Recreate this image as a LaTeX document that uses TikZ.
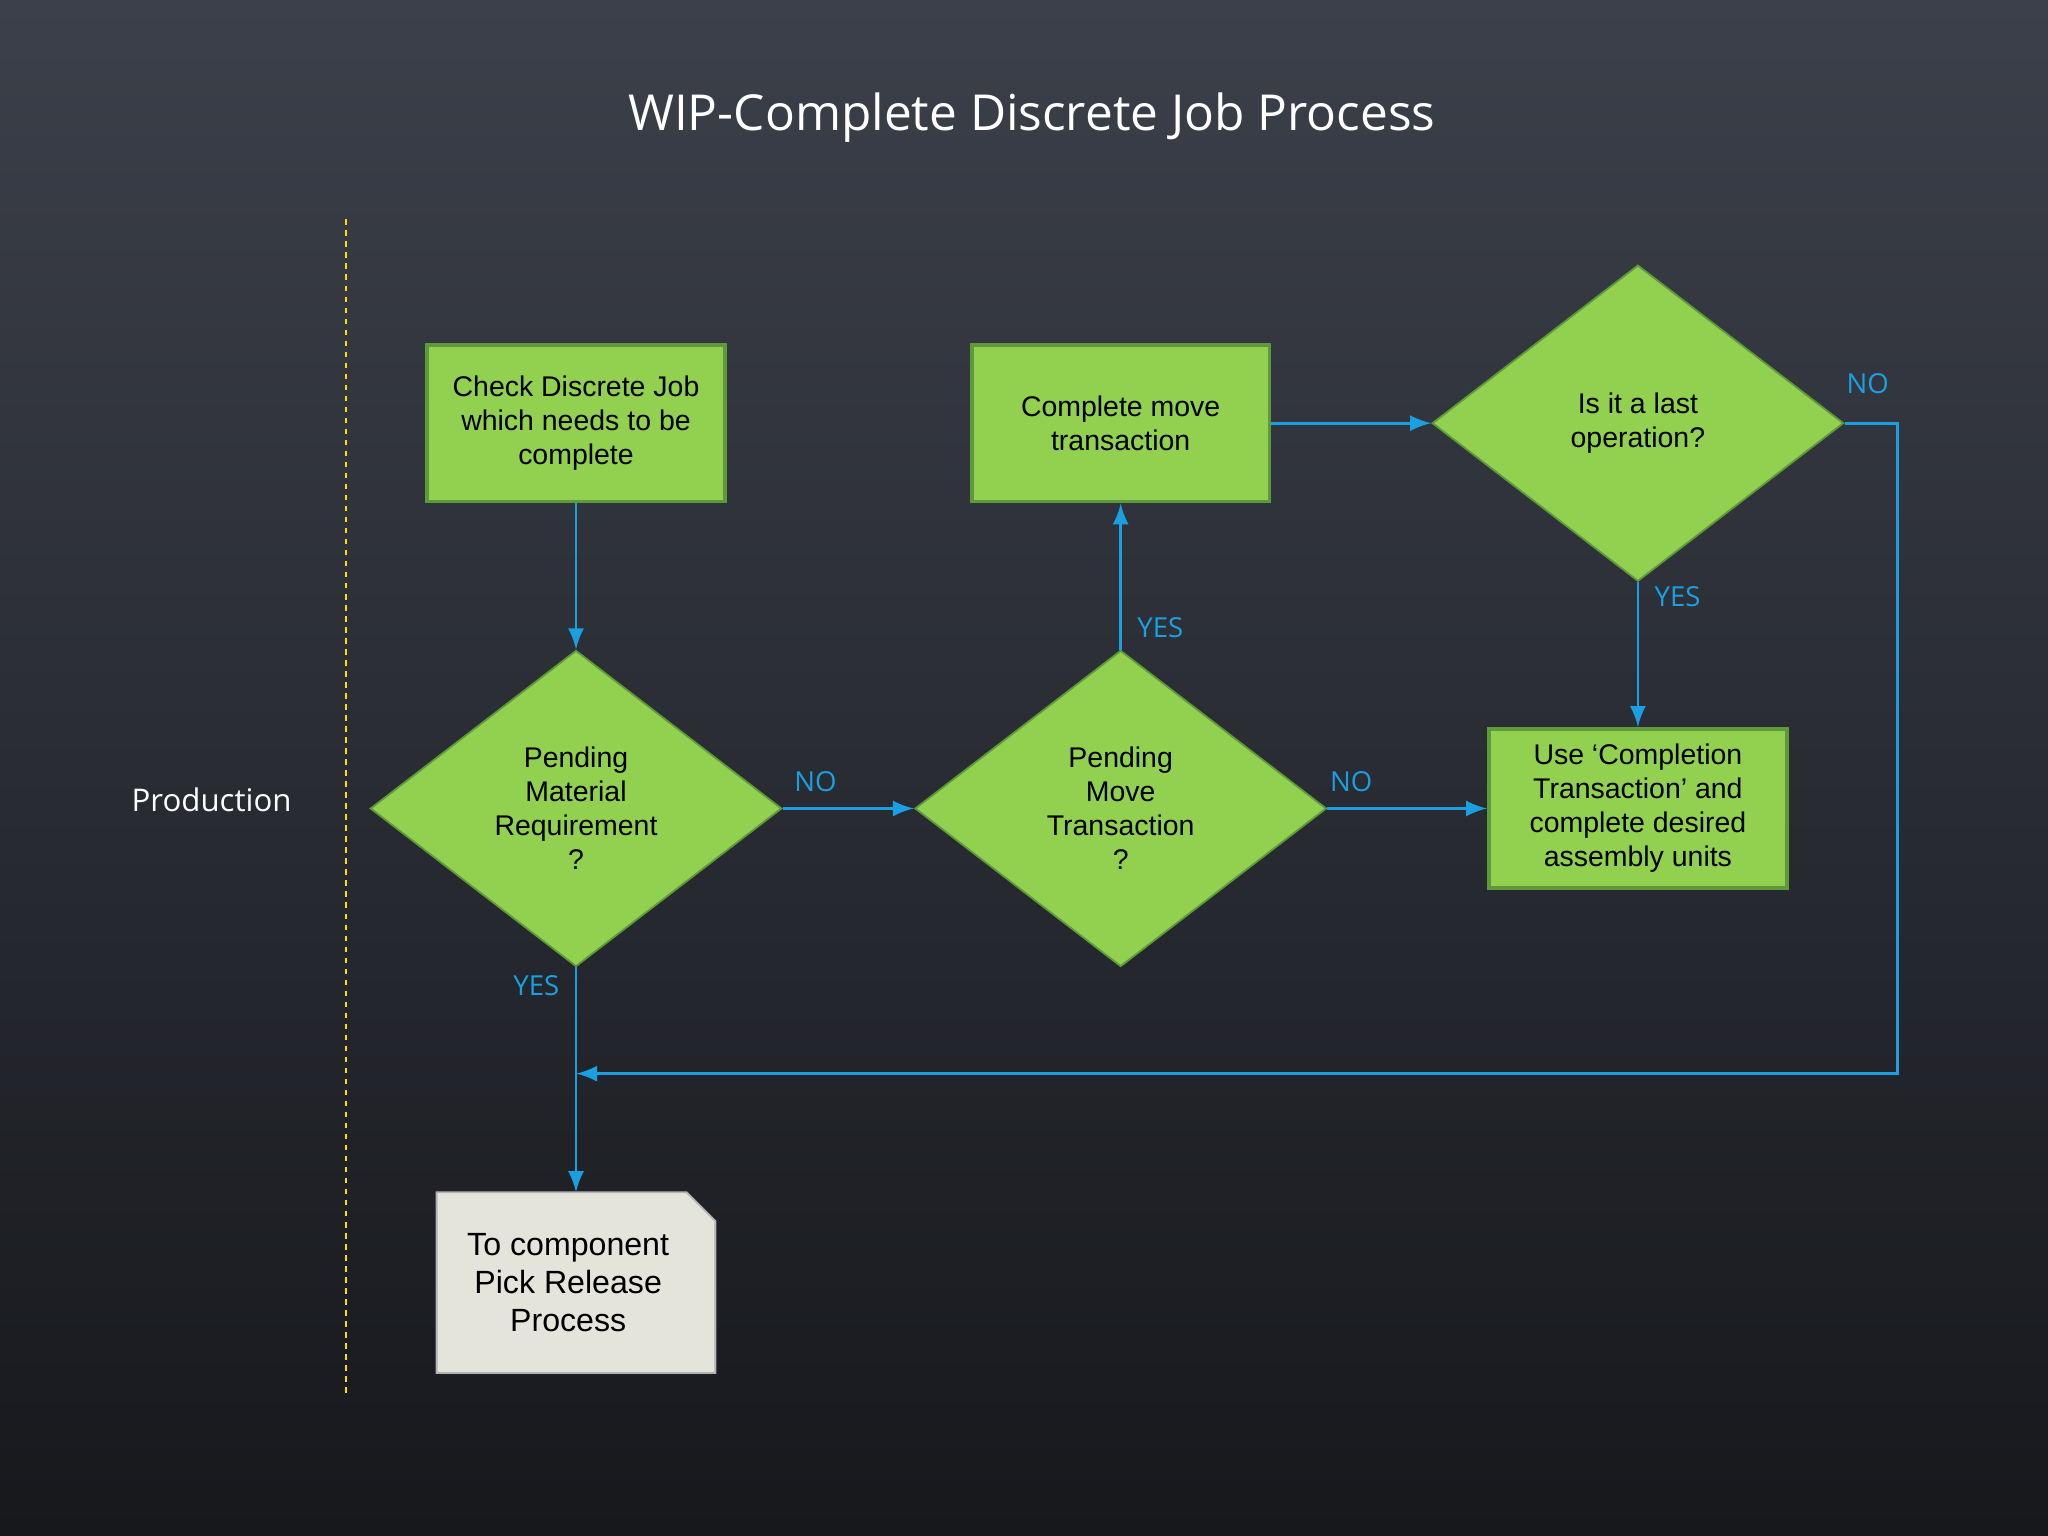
\documentclass[tikz,border=0pt]{standalone}
\usepackage{fontspec}
\setmainfont{Liberation Sans}
\newfontfamily\titlefont{Open Sans}
\usetikzlibrary{shapes.geometric}
\definecolor{bgtop}{HTML}{3C404A}
\definecolor{bgbot}{HTML}{16181C}
\definecolor{boxgreen}{HTML}{92D050}
\definecolor{edgegreen}{HTML}{5E9A3A}
\definecolor{flowblue}{HTML}{1AA0E0}
\definecolor{docgray}{HTML}{E4E4DA}
\tikzset{
    action/.style={draw=edgegreen, line width=0.8pt, fill=boxgreen, align=center, minimum width=2.28cm, minimum height=1.2cm, font=\fontsize{6.2}{7.4}\selectfont},
    check/.style={diamond, draw=edgegreen, fill=boxgreen, align=center, minimum width=3.15cm, minimum height=2.42cm, inner sep=0pt, font=\fontsize{6.2}{7.4}\selectfont},
    flow/.style={draw=flowblue, line width=0.6pt, -latex},
    answer/.style={text=flowblue, font=\titlefont\fontsize{6}{7.2}\selectfont}
}
\begin{document}
\begin{tikzpicture}
        \shade[top color=bgtop, bottom color=bgbot] (0,0) rectangle (15.68,-11.76);
        \useasboundingbox (0,0) rectangle (15.68,-11.76);
        \node[text=white, font=\titlefont\fontsize{10.8}{13}\selectfont] (Title) at (7.9,-0.9) {WIP-Complete Discrete Job Process};
        \node[text=white, font=\titlefont\fontsize{6.8}{8}\selectfont] (Lane) at (1.62,-6.12) {Production};
        \draw[yellow!80!orange, dash pattern=on 1.2pt off 1.2pt, line width=0.5pt] (2.65,-1.68) -- (2.65,-10.68);
        \node[action] (CheckJob) at (4.41,-3.24) {
            Check Discrete Job\\which needs to be\\complete
        };
        \node[action] (MoveTxn) at (8.58,-3.24) {
            Complete move\\transaction
        };
        \node[check] (LastOp) at (12.54,-3.24) {
            Is it a last\\operation?
        };
        \node[check] (PendMat) at (4.41,-6.19) {
            Pending\\Material\\Requirement\\?
        };
        \node[check] (PendMove) at (8.58,-6.19) {
            Pending\\Move\\Transaction\\?
        };
        \node[action] (CompTxn) at (12.54,-6.19) {
            Use `Completion\\Transaction' and\\complete desired\\assembly units
        };
        \node[minimum width=2.12cm, minimum height=1.37cm] (PickRelease) at (4.41,-9.82) {};
        \fill[docgray, draw=gray!60] (PickRelease.south west) -- (PickRelease.north west) -- ([xshift=-0.22cm]PickRelease.north east) -- ([yshift=-0.22cm]PickRelease.north east) -- (PickRelease.south east) -- cycle;
        \node[align=center, font=\fontsize{7}{8.3}\selectfont] (PickText) at ([xshift=-0.06cm]PickRelease) {To component\\Pick Release\\Process};
        \coordinate (LoopTop) at (14.53,-3.24);
        \coordinate (LoopBot) at (14.53,-8.22);
        \coordinate (Join) at (4.41,-8.22);
        \draw[flow] (CheckJob) -- (PendMat);
        \draw[flow] (PendMat) -- node[answer, above, pos=0.25] {NO} (PendMove);
        \draw[flow] (PendMove) -- node[answer, right, pos=0.15] {YES} (MoveTxn);
        \draw[flow] (MoveTxn) -- (LastOp);
        \draw[flow] (LastOp) -- node[answer, right, pos=0.1] {YES} (CompTxn);
        \draw[flow] (PendMove) -- node[answer, above, pos=0.15] {NO} (CompTxn);
        \draw[flow] (LastOp.east) -- (LoopTop) -- (LoopBot) -- (Join);
        \node[answer] (LoopNo) at (14.3,-2.94) {NO};
        \draw[flow] (PendMat) -- node[answer, left, pos=0.08] {YES} (PickRelease);
\end{tikzpicture}
\end{document}
